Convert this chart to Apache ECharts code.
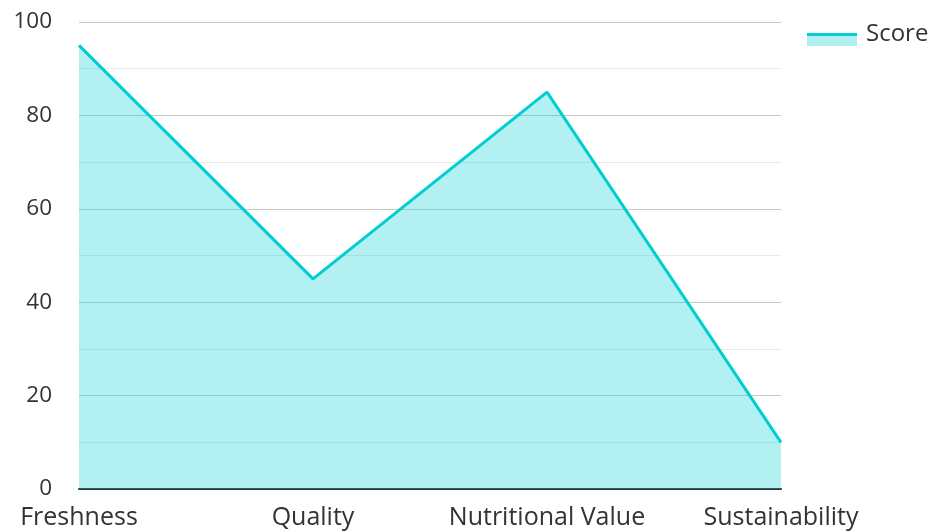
<!DOCTYPE html>
<html>
<head>
<meta charset="utf-8">
<script src="https://cdn.jsdelivr.net/npm/echarts@6/dist/echarts.min.js"></script>
<style>
  html, body { margin: 0; padding: 0; background: #fff; }
  #chart { width: 930px; height: 531px; }
</style>
</head>
<body>
<div id="chart"></div>
<script>
const categories = ['Freshness', 'Quality', 'Nutritional Value', 'Sustainability']
const scores = [95, 45, 85, 10]
const seriesName = 'Score'

const chart = echarts.init(document.getElementById('chart'))

chart.setOption({
  animation: false,
  textStyle: { fontFamily: '"Open Sans", "Noto Sans", sans-serif' },
  grid: { left: 79, right: 149, top: 22, bottom: 42 },
  legend: {
    left: 807,
    top: 22,
    padding: 0,
    itemWidth: 50,
    itemHeight: 24,
    itemGap: 10,
    textStyle: { fontSize: 24, color: '#333', padding: [0, 0, 0, 4], fontFamily: '"Open Sans", sans-serif' },
    data: [{
      name: seriesName,
      icon: 'rect',
      // line on top, fill below, icon sits a bit under the text middle
      itemStyle: {
        color: {
          type: 'linear', x: 0, y: 0, x2: 0, y2: 1,
          colorStops: [
            { offset: 0, color: 'rgba(255,255,255,0)' },
            { offset: 0.44, color: 'rgba(255,255,255,0)' },
            { offset: 0.44, color: '#00CED1' },
            { offset: 0.6, color: '#00CED1' },
            { offset: 0.6, color: '#B2EFEF' },
            { offset: 1, color: '#B2EFEF' },
          ],
        },
      },
    }],
  },
  xAxis: {
    type: 'category',
    data: categories,
    boundaryGap: false,
    axisLine: { lineStyle: { color: '#333', width: 2 } },
    axisTick: { show: false },
    axisLabel: { color: '#333', fontSize: 25, margin: 16, interval: 0, hideOverlap: false },
  },
  yAxis: {
    type: 'value',
    min: 0,
    max: 100,
    interval: 20,
    axisLine: { show: false },
    axisTick: { show: false },
    axisLabel: { color: '#333', fontSize: 22.5, margin: 27 },
    splitLine: { lineStyle: { color: '#c8c8c8', width: 1 } },
    minorTick: { show: false, splitNumber: 2 },
    minorSplitLine: { show: true, lineStyle: { color: '#e8e8e8', width: 1 } },
  },
  series: [{
    name: seriesName,
    type: 'line',
    data: scores,
    symbol: 'none',
    lineStyle: { color: '#00CED1', width: 3 },
    itemStyle: { color: '#00CED1' },
    areaStyle: { color: '#00CED1', opacity: 0.3 },
  }],
})
</script>
</body>
</html>
